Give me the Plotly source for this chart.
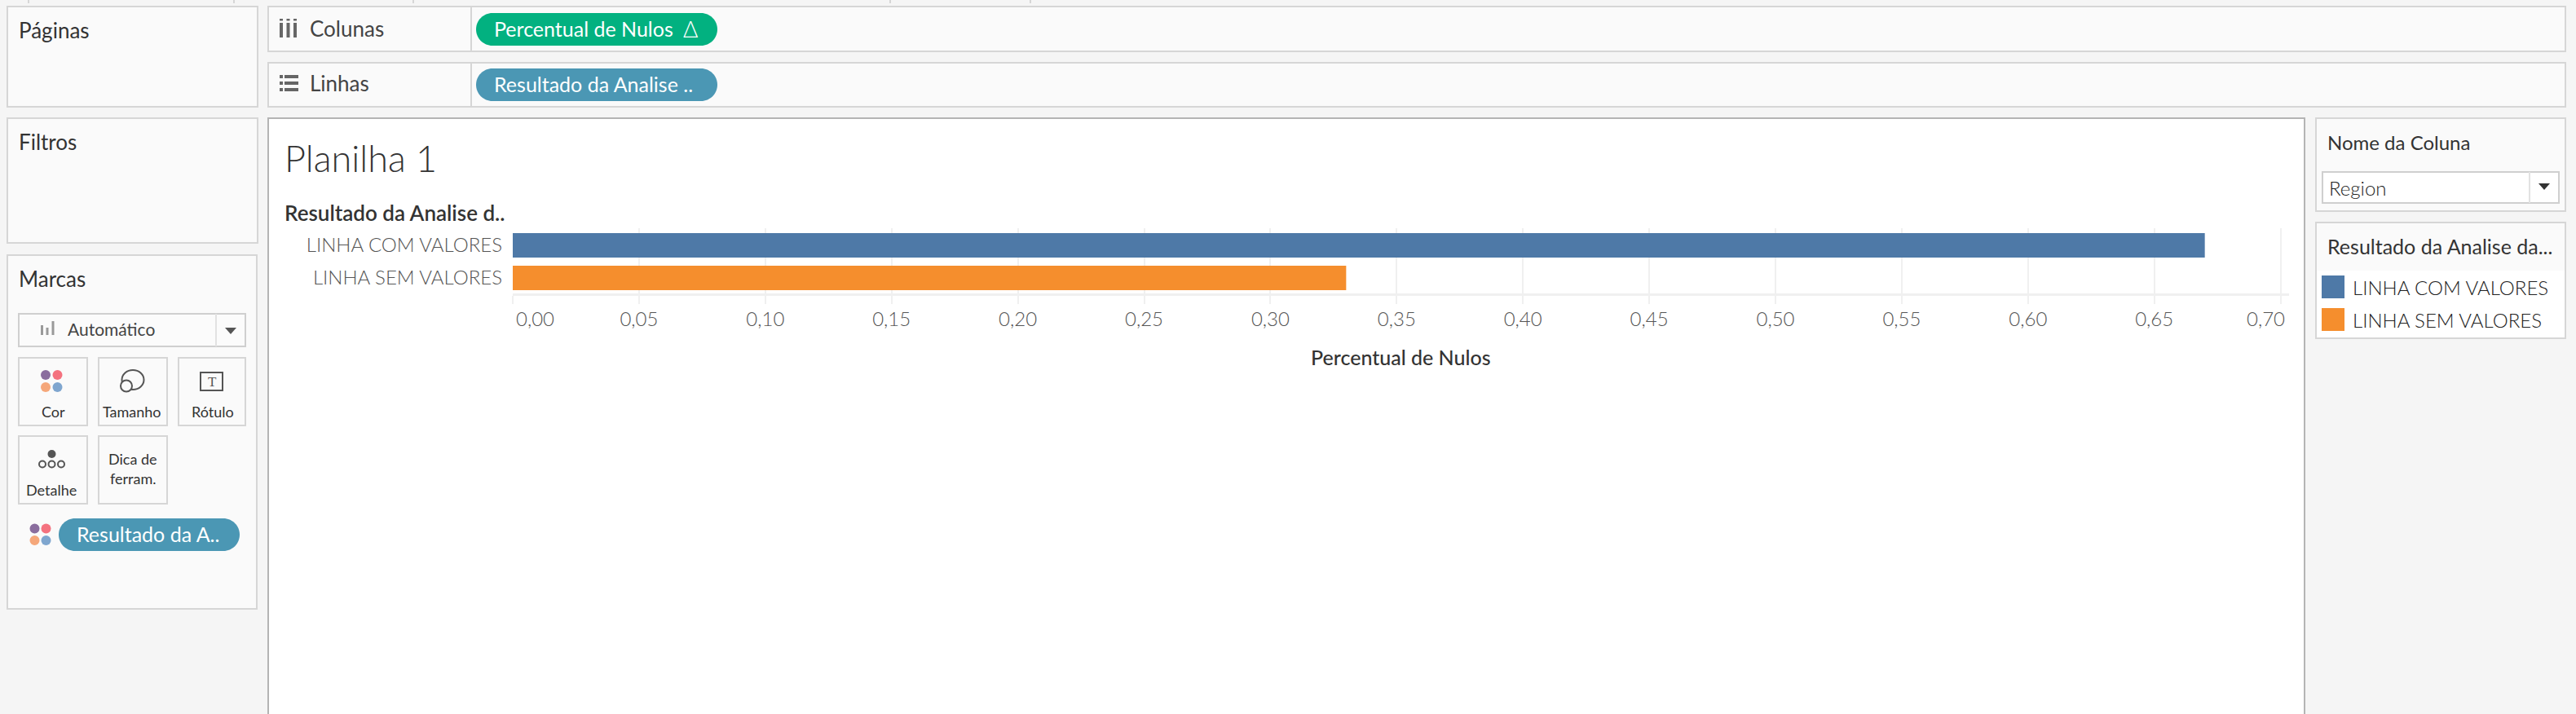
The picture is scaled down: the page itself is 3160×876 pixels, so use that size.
import plotly.graph_objects as go

W, H = 3160, 876

categories = ["LINHA COM VALORES", "LINHA SEM VALORES"]
null_share = [0.67, 0.33]
bar_colors = ["#4e79a7", "#f58e2d"]
x_ticks = [0.00, 0.05, 0.10, 0.15, 0.20, 0.25, 0.30, 0.35, 0.40, 0.45, 0.50, 0.55, 0.60, 0.65, 0.70]

FONT = "Lato"
BG = "#f5f5f5"
PANEL = "#fafafa"
BORDER = "#d6d6d6"
TEXT = "#333333"
GREEN_PILL = "#02b180"
BLUE_PILL = "#4b97b4"

shapes = []
notes = []


def fx(px):
    return px / W


def fy(py):
    return 1 - py / H


def box(x0, y0, x1, y1, fill=None, line=BORDER, width=2):
    shapes.append(dict(
        type="rect", xref="paper", yref="paper", layer="below",
        x0=fx(x0), x1=fx(x1), y0=fy(y0), y1=fy(y1),
        fillcolor=fill if fill else "rgba(0,0,0,0)",
        line=dict(color=line, width=width),
    ))


def seg(x0, y0, x1, y1, color=BORDER, width=2):
    shapes.append(dict(
        type="line", xref="paper", yref="paper", layer="below",
        x0=fx(x0), x1=fx(x1), y0=fy(y0), y1=fy(y1),
        line=dict(color=color, width=width),
    ))


def circle(cx, cy, rx, ry=None, fill=None, line=None, width=2):
    ry = ry if ry else rx
    shapes.append(dict(
        type="circle", xref="paper", yref="paper", layer="below",
        x0=fx(cx - rx), x1=fx(cx + rx), y0=fy(cy + ry), y1=fy(cy - ry),
        fillcolor=fill if fill else "rgba(0,0,0,0)",
        line=dict(color=line if line else "rgba(0,0,0,0)", width=width),
    ))


def pill(x0, y0, x1, y1, fill):
    r = (y1 - y0) / 2
    k = r * 0.45
    d = (
        f"M {fx(x0 + r)} {fy(y0)} L {fx(x1 - r)} {fy(y0)} "
        f"C {fx(x1 - k)} {fy(y0)} {fx(x1)} {fy(y0 + k)} {fx(x1)} {fy(y0 + r)} "
        f"C {fx(x1)} {fy(y1 - k)} {fx(x1 - k)} {fy(y1)} {fx(x1 - r)} {fy(y1)} "
        f"L {fx(x0 + r)} {fy(y1)} "
        f"C {fx(x0 + k)} {fy(y1)} {fx(x0)} {fy(y1 - k)} {fx(x0)} {fy(y0 + r)} "
        f"C {fx(x0)} {fy(y0 + k)} {fx(x0 + k)} {fy(y0)} {fx(x0 + r)} {fy(y0)} Z"
    )
    shapes.append(dict(
        type="path", xref="paper", yref="paper", layer="below", path=d,
        fillcolor=fill, line=dict(width=0),
    ))


def caret(cx, cy, color="#555555"):
    d = (
        f"M {fx(cx - 7)} {fy(cy - 4)} L {fx(cx + 7)} {fy(cy - 4)} "
        f"L {fx(cx)} {fy(cy + 4)} Z"
    )
    shapes.append(dict(
        type="path", xref="paper", yref="paper", layer="below", path=d,
        fillcolor=color, line=dict(width=0),
    ))


def label(px, py, text, size=26, color=TEXT, anchor="left", weight=400, family=FONT):
    notes.append(dict(
        xref="paper", yref="paper", x=fx(px), y=fy(py - 1), text=text,
        showarrow=False, xanchor=anchor, yanchor="middle",
        xshift=0, yshift=0, borderpad=0, borderwidth=0,
        font=dict(family=family, size=size, color=color, weight=weight),
    ))


def color_dots(x0, x1, y0, y1):
    circle(x0, y0, 6, fill="#8a6d9e")
    circle(x1, y0, 6, fill="#f4727f")
    circle(x0, y1, 6, fill="#f5a77a")
    circle(x1, y1, 6, fill="#7fa6cf")


# top strip of the window
for tick_x in [35, 287, 507, 1092, 1264]:
    seg(tick_x, 0, tick_x, 4)

# left panels
box(9, 8, 316, 131, PANEL)
label(23, 38, "Páginas")
box(9, 145, 316, 298, PANEL)
label(23, 175, "Filtros")
box(9, 313, 315, 747, PANEL)
label(23, 343, "Marcas")

# shelves
box(329, 8, 3147, 63, PANEL)
seg(578, 8, 578, 63)
box(329, 77, 3147, 131, PANEL)
seg(578, 77, 578, 131)
for col_x in [345, 353.5, 362]:
    seg(col_x, 23, col_x, 25.5, "#666666", 4)
    seg(col_x, 28, col_x, 46, "#666666", 4)
for row_y in [94, 102, 110]:
    seg(343, row_y, 347, row_y, "#666666", 4)
    seg(349, row_y, 366, row_y, "#666666", 4)
label(380, 36, "Colunas", color="#444444")
label(380, 103, "Linhas", color="#444444")
pill(584, 16, 880, 56, GREEN_PILL)
label(606, 36, "Percentual de Nulos", size=25, color="white")
label(847, 36, "Δ", size=28, color="white", anchor="center", weight=300)
pill(584, 84, 880, 124, BLUE_PILL)
label(606, 104, "Resultado da Analise ..", size=25, color="white")

# marks card
box(23, 385, 301, 425, "#fbfbfb", "#cfcfcf")
seg(265, 385, 265, 425, "#e2e2e2")
for bar_x, top in [(51.5, 399), (58, 402), (65, 394)]:
    seg(bar_x, top, bar_x, 411, "#9a9a9a", 3)
label(83, 405, "Automático", size=21, color="#444444")
caret(283, 406)
box(23, 439, 107, 522, PANEL)
box(121, 439, 205, 522, PANEL)
box(219, 439, 301, 522, PANEL)
box(23, 535, 107, 618, PANEL)
box(121, 535, 205, 618, PANEL)
color_dots(56, 70.5, 460, 475)
label(65, 506, "Cor", size=18, anchor="center")
circle(163, 466, 13.5, 12, line="#555555")
circle(155, 473.5, 7, fill=PANEL, line="#555555")
label(162, 506, "Tamanho", size=18, anchor="center")
box(246, 457, 273, 479, None, "#555555")
label(260, 469, "T", size=17, color="#555555", anchor="center", family="Liberation Serif")
label(261, 506, "Rótulo", size=18, anchor="center")
circle(63.5, 557, 5, fill="#555555")
for ring_x in [52, 63.5, 75]:
    circle(ring_x, 569.5, 4, line="#555555")
label(63, 601.5, "Detalhe", size=18, anchor="center")
label(163, 563.5, "Dica de", size=18, anchor="center")
label(163, 588, "ferram.", size=18, anchor="center")
color_dots(42.5, 56.5, 648.5, 663)
pill(72, 636, 294, 676, BLUE_PILL)
label(94, 656, "Resultado da A..", size=25, color="white")

# sheet
box(329, 145, 2827, 880, "white", "#b4b4b4")
label(349, 195, "Planilha 1", size=45, weight=300)
label(349, 262, "Resultado da Analise d..", weight=600, size=26)
label(1718, 439, "Percentual de Nulos", anchor="center", size=25, weight=500)

# ends of the axis are nudged inwards to stay inside the pane
tick_font = dict(family=FONT, size=24, color="#555555", weight=300)
notes.append(dict(
    xref="x", yref="paper", x=x_ticks[0], y=fy(390), xshift=27, text=f"{x_ticks[0]:.2f}".replace(".", ","),
    showarrow=False, yanchor="middle", font=tick_font,
))
notes.append(dict(
    xref="x", yref="paper", x=x_ticks[-1], y=fy(390), xshift=-18, text=f"{x_ticks[-1]:.2f}".replace(".", ","),
    showarrow=False, yanchor="middle", font=tick_font,
))

# right panels
box(2841, 145, 3147, 259, PANEL)
label(2855, 175, "Nome da Coluna", size=24)
box(2849, 211, 3139, 249, "white", "#cfcfcf")
seg(3103, 211, 3103, 249, "#e2e2e2")
label(2857, 231, "Region", size=24, weight=300, color="#222222")
caret(3121, 229, "#333333")
box(2841, 273, 3147, 415, "white")
box(2842, 274, 3146, 332, PANEL, PANEL, 0)
label(2855, 303, "Resultado da Analise da...", size=25)
for name, color, top in zip(categories, bar_colors, [338, 378]):
    box(2848, top, 2876, top + 28, color, color, 0)
    label(2886, top + 15, name, size=24, weight=300, color="#222222")

tick_text = [""] + [f"{t:.2f}".replace(".", ",") for t in x_ticks[1:-1]] + [""]

fig = go.Figure(
    go.Bar(
        x=null_share,
        y=categories,
        orientation="h",
        width=0.75,
        marker=dict(color=bar_colors, line=dict(width=0)),
    )
)
fig.update_layout(
    width=W,
    height=H,
    margin=dict(l=0, r=0, t=0, b=0),
    paper_bgcolor=BG,
    plot_bgcolor="rgba(0,0,0,0)",
    showlegend=False,
    font=dict(family=FONT),
    shapes=shapes,
    annotations=notes,
)
fig.update_xaxes(
    domain=[fx(629), fx(2808)],
    range=[0, (2808 - 629) / 3098],
    tickvals=x_ticks,
    ticktext=tick_text,
    ticks="outside",
    ticklen=10,
    tickwidth=2,
    tickcolor="#f0f0f0",
    ticklabelstandoff=-2,
    tickfont=tick_font,
    showgrid=True,
    gridcolor="#f0f0f0",
    gridwidth=2,
    zeroline=False,
    showline=True,
    linecolor="#f0f0f0",
    linewidth=3,
)
fig.update_yaxes(
    domain=[fy(360), fy(280)],
    type="category",
    range=[1.475, -0.525],
    ticks="",
    ticklabelstandoff=12,
    tickfont=dict(family=FONT, size=24, color="#555555", weight=300),
    showgrid=False,
    zeroline=False,
    showline=False,
)

fig.write_html(
    "out.html",
    config={"displayModeBar": False},
    post_script="document.body.style.margin='0';",
)
